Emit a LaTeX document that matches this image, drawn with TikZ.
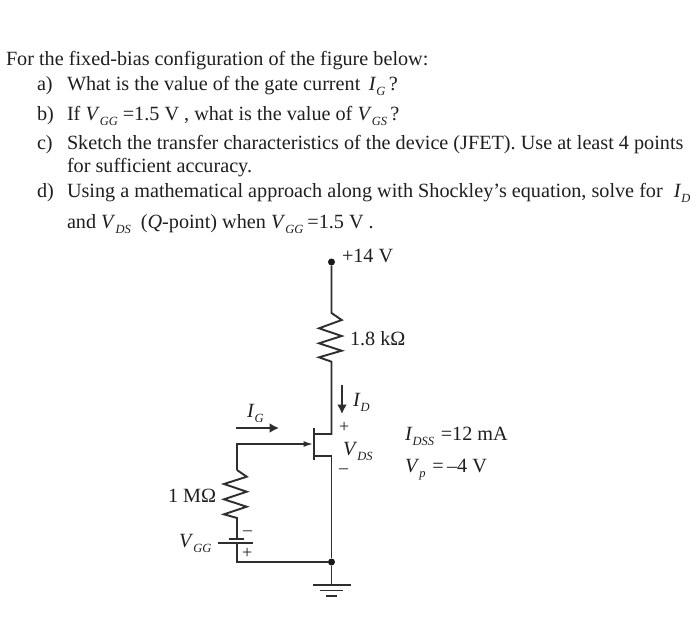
\documentclass[tikz,border=0pt]{standalone}
\usepackage{fontspec}
\setmainfont{Liberation Serif}
\usetikzlibrary{arrows.meta}
\newcommand{\vsub}[2]{\textit{#1}\raisebox{-0.28em}{\fontsize{12.5}{12.5}\selectfont\textit{#2}}}
\tikzset{
  x=1pt,y=-1pt,
  txt/.style={anchor=base west,inner sep=0pt,outer sep=0pt,text=black!88,font=\fontsize{20.2}{22}\selectfont},
  lab/.style={txt},
  sign/.style={txt,font=\fontsize{18}{18}\selectfont},
  wire/.style={draw=black!82,line width=1.9pt,line join=miter},
  dotn/.style={circle,fill=black!90,inner sep=0pt,minimum size=7pt},
  arr/.style={wire,-{Latex[length=9.5pt,width=10pt]}},
  garr/.style={wire,-{Latex[length=10pt,width=6pt]}}
}
\begin{document}
\begin{tikzpicture}
\useasboundingbox[fill=white] (0,0) rectangle (700,622);
% question text
\node[txt] (q0) at (6,65) {For the fixed-bias configuration of the figure below:};
\node[txt] (la) at (37,90) {a)};
\node[txt] (qa) at (67,90) {What is the value of the gate current\ \hspace{3.5pt}\vsub{I}{G}\,?};
\node[txt] (lb) at (37,120) {b)};
\node[txt] (qb) at (67,120) {If \vsub{V}{GG}\hspace{5pt}=1.5 V , what is the value of \vsub{V}{GS}\,?};
\node[txt] (lc) at (37,149) {c)};
\node[txt] (qc) at (67,149) {Sketch the transfer characteristics of the device (JFET). Use at least 4 points};
\node[txt] (qc2) at (67,172) {for sufficient accuracy.};
\node[txt] (ld) at (37,197) {d)};
\node[txt] (qd) at (67,197) {Using a mathematical approach along with Shockley’s equation, solve for\ \ \hspace{1pt}\vsub{I}{D}};
\node[txt] (qd2) at (67,228) {and \vsub{V}{DS}\ \ (\textit{Q}-point) when \vsub{V}{GG}\hspace{4pt}=1.5 V .};
% circuit points
\coordinate (rdtop) at (331.5,313);
\coordinate (rdbot) at (331.5,361.7);
\coordinate (dr) at (331.5,434);
\coordinate (drg) at (314,434);
\coordinate (srg) at (314,456);
\coordinate (sr) at (331.5,456);
\coordinate (gtop) at (237,444);
\coordinate (gate) at (313.5,444);
\coordinate (rgtop) at (237,470);
\coordinate (rgbot) at (237,518);
\coordinate (batS) at (237,538.7);
\coordinate (batL) at (237,542.7);
\coordinate (gndc) at (237,562);
\coordinate (gnd) at (331.5,585);
\coordinate (chT) at (313.7,428);
\coordinate (chB) at (313.7,460);
\coordinate (igA) at (236,428);
\coordinate (igB) at (279,428);
\coordinate (idA) at (342,385);
\coordinate (idB) at (342,414);
\node[dotn] (vdd) at (331.5,262) {};
\node[dotn] (jn) at (331.5,562) {};
% drain side
\draw[wire] (vdd) -- (rdtop) -- ++(10.2,7) -- ++(-22.7,8.3) -- ++(22.7,7.7) -- ++(-22.7,7.3) -- ++(22.7,7.4) -- ++(-22.7,6.6) -- (rdbot) -- (dr) -- (drg);
\draw[wire] (srg) -- (sr) -- (jn);
\draw[wire] (chT) -- (chB);
% gate side
\draw[garr] (rgtop) -- (gtop) -- (gate);
\draw[wire] (rgtop) -- ++(9.7,6.7) -- ++(-22.7,7.3) -- ++(22.7,7.7) -- ++(-22.7,7.6) -- ++(22.7,7.4) -- ++(-22.7,7.6) -- (rgbot) -- (batS);
\draw[wire] (229,538.7) -- (244,538.7);
\draw[wire] (218,542.7) -- (253,542.7);
\draw[wire] (batL) -- (gndc) -- (jn);
% ground
\draw[wire] (jn) -- (gnd);
\draw[wire] (313,585) -- (351,585);
\draw[wire] (320,590.5) -- (343,590.5);
\draw[wire] (326,596) -- (337,596);
% current arrows
\draw[arr] (igA) -- (igB);
\draw[arr] (idA) -- (idB);
% labels
\node[lab] (l14) at (342,262) {+14 V};
\node[lab] (lrd) at (350,345) {1.8 kΩ};
\node[lab] (lid) at (353,406) {\vsub{I}{D}};
\node[lab] (lig) at (247,417) {\vsub{I}{G}};
\node[sign] (lp) at (339,432) {+};
\node[lab] (lvds) at (343,455) {\vsub{V}{DS}};
\node[sign] (lm) at (339,473) {–};
\node[lab] (lrg) at (168,502) {1 MΩ};
\node[lab] (lvgg) at (179,547) {\vsub{V}{GG}};
\node[sign] (bm) at (243,535) {–};
\node[sign] (bp) at (242,558) {+};
\node[lab] (lidss) at (405,440) {\vsub{I}{DSS}\,\,=12 mA};
\node[lab] (lvp) at (405,472) {\vsub{V}{p}\,\,=\,–4 V};
\end{tikzpicture}
\end{document}
